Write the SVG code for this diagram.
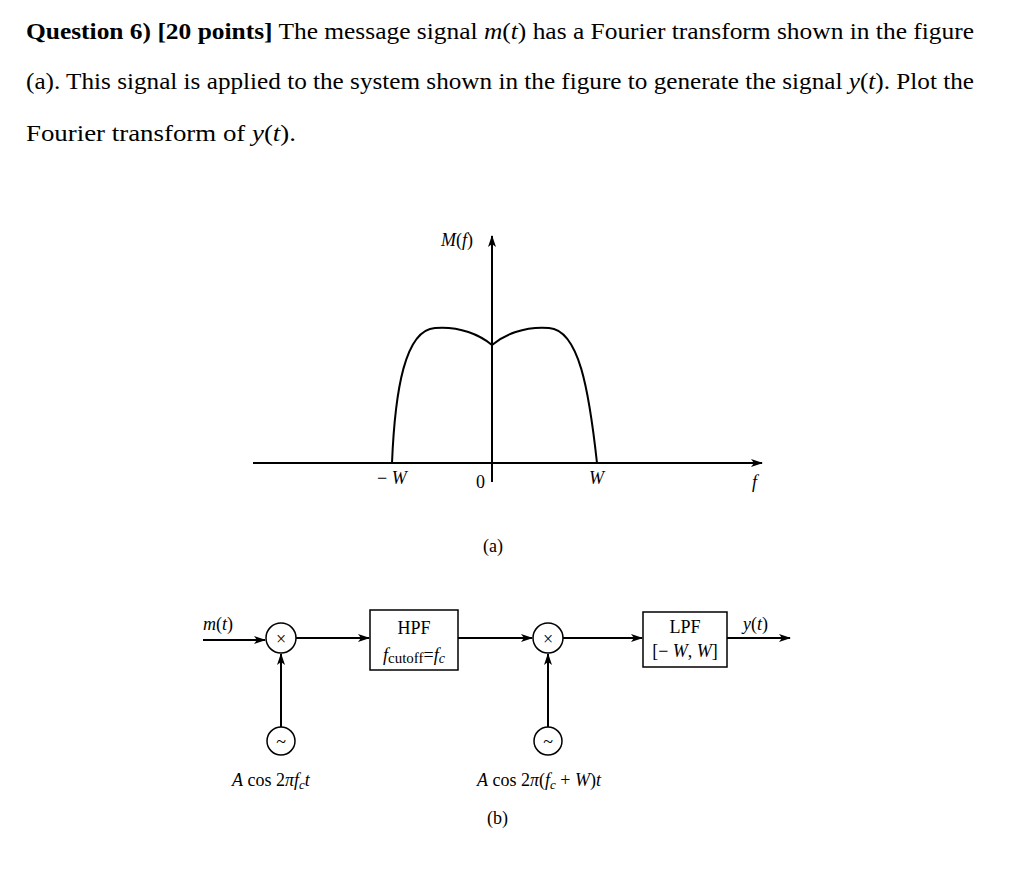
<svg xmlns="http://www.w3.org/2000/svg" width="1024" height="896" viewBox="0 0 1024 896">
<style>
.t{font-family:"Liberation Serif","Times New Roman",serif;font-size:24px;fill:#000}
.s{font-family:"Liberation Serif","Times New Roman",serif;font-size:18px;fill:#000}
.i{font-style:italic}
.ln{stroke:#000;stroke-width:2;fill:none}
</style>
<defs><marker id="a" markerWidth="12" markerHeight="8" refX="11" refY="4" orient="auto" markerUnits="userSpaceOnUse"><path d="M0,0 L12,4 L0,8 L3,4z" fill="#000"/></marker></defs>
<rect width="1024" height="896" fill="#fff"/>
<text class="t" x="26" y="39" textLength="948" lengthAdjust="spacingAndGlyphs"><tspan font-weight="bold">Question 6) [20 points]</tspan> The message signal <tspan class="i">m</tspan>(<tspan class="i">t</tspan>) has a Fourier transform shown in the figure</text>
<text class="t" x="26" y="89" textLength="948" lengthAdjust="spacingAndGlyphs">(a). This signal is applied to the system shown in the figure to generate the signal <tspan class="i">y</tspan>(<tspan class="i">t</tspan>). Plot the</text>
<text class="t" x="26" y="141" textLength="270" lengthAdjust="spacingAndGlyphs">Fourier transform of <tspan class="i">y</tspan>(<tspan class="i">t</tspan>).</text>
<g id="graph">
<line class="ln" x1="492" y1="482" x2="492" y2="236" marker-end="url(#a)"/>
<line class="ln" x1="253" y1="463" x2="762" y2="463" marker-end="url(#a)"/>
<path class="ln" stroke-width="3" d="M392,463 C395,390 405,330 435,328 C460,326 480,335 492,345 C504,335 524,326 549,328 C579,330 589,390 597,463"/>
<text class="s" x="441" y="246"><tspan class="i">M</tspan>(<tspan class="i">f</tspan>)</text>
<text class="s" x="377" y="484">− <tspan class="i">W</tspan></text>
<text class="s" x="476" y="488">0</text>
<text class="s i" x="589" y="484">W</text>
<text class="s i" x="752" y="488">f</text>
<text class="s" x="483" y="552">(a)</text>
</g>
<g id="connectors">
<line class="ln" x1="203" y1="640" x2="265" y2="640" marker-end="url(#a)"/>
<line class="ln" x1="296" y1="638" x2="369" y2="638" marker-end="url(#a)"/>
<line class="ln" x1="458" y1="638" x2="532" y2="638" marker-end="url(#a)"/>
<line class="ln" x1="563" y1="638" x2="642" y2="638" marker-end="url(#a)"/>
<line class="ln" x1="727" y1="638" x2="790" y2="638" marker-end="url(#a)"/>
<line class="ln" x1="281" y1="727" x2="281" y2="654" marker-end="url(#a)"/>
<line class="ln" x1="548" y1="727" x2="548" y2="654" marker-end="url(#a)"/>
</g>
<g id="mult1"><circle cx="281" cy="638" r="15" fill="#fff" stroke="#000" stroke-width="1.5"/><text class="s" x="281" y="645" text-anchor="middle" font-size="22">×</text></g>
<g id="hpf"><rect x="370" y="610" width="88" height="60" fill="#fff" stroke="#000" stroke-width="1.5"/><text class="s" x="414" y="634" text-anchor="middle">HPF</text><text class="s" x="414" y="661" text-anchor="middle"><tspan class="i">f</tspan><tspan font-size="15" dy="2">cutoff</tspan><tspan dy="-2">=</tspan><tspan class="i">f</tspan><tspan class="i" font-size="14" dy="2">c</tspan></text></g>
<g id="mult2"><circle cx="548" cy="638" r="15" fill="#fff" stroke="#000" stroke-width="1.5"/><text class="s" x="548" y="645" text-anchor="middle" font-size="22">×</text></g>
<g id="lpf"><rect x="643" y="612" width="84" height="55" fill="#fff" stroke="#000" stroke-width="1.5"/><text class="s" x="685" y="633" text-anchor="middle">LPF</text><text class="s" x="685" y="657" text-anchor="middle">[− <tspan class="i">W</tspan>, <tspan class="i">W</tspan>]</text></g>
<g id="osc1"><circle cx="281" cy="741" r="14" fill="#fff" stroke="#000" stroke-width="1.5"/><text class="s" x="281" y="748" text-anchor="middle" font-size="20">~</text></g>
<g id="osc2"><circle cx="548" cy="741" r="14" fill="#fff" stroke="#000" stroke-width="1.5"/><text class="s" x="548" y="748" text-anchor="middle" font-size="20">~</text></g>
<text class="s" x="203" y="630"><tspan class="i">m</tspan>(<tspan class="i">t</tspan>)</text>
<text class="s" x="743" y="630"><tspan class="i">y</tspan>(<tspan class="i">t</tspan>)</text>
<text class="s" x="232" y="786"><tspan class="i">A</tspan> cos 2<tspan class="i">πf</tspan><tspan class="i" font-size="13" dy="3">c</tspan><tspan class="i" dy="-3">t</tspan></text>
<text class="s" x="477" y="786"><tspan class="i">A</tspan> cos 2<tspan class="i">π</tspan>(<tspan class="i">f</tspan><tspan class="i" font-size="13" dy="3">c</tspan><tspan dy="-3"> + </tspan><tspan class="i">W</tspan>)<tspan class="i">t</tspan></text>
<text class="s" x="487" y="824">(b)</text>
</svg>
